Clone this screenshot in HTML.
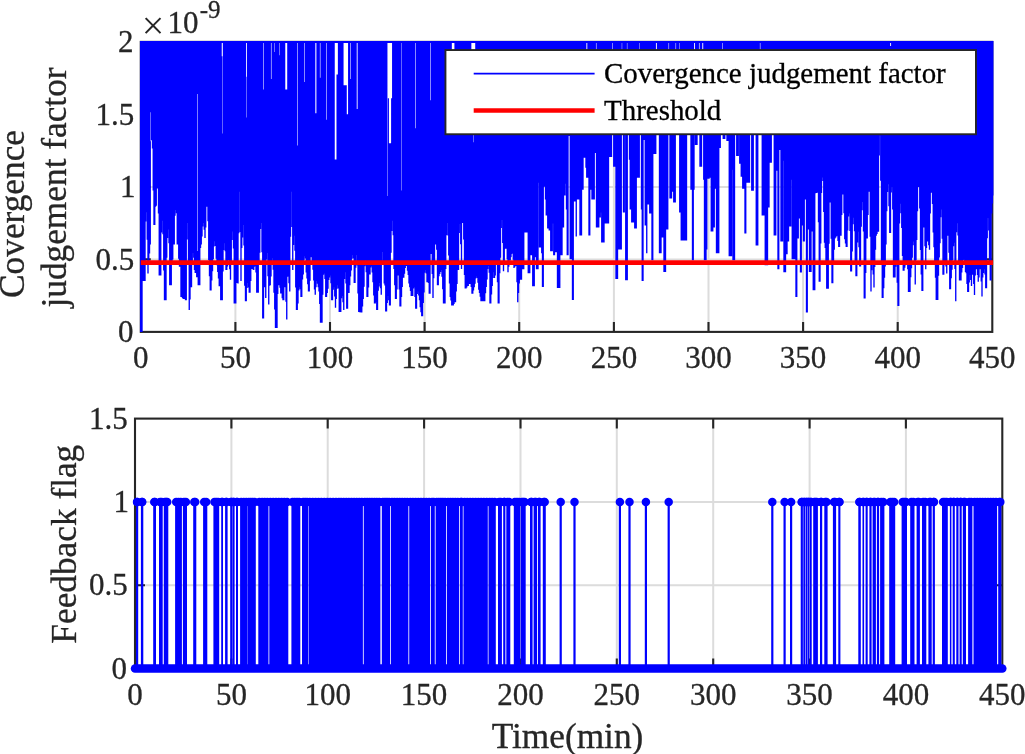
<!DOCTYPE html><html><head><meta charset="utf-8"><title>Convergence plot</title><style>html,body{margin:0;padding:0;background:#fff}svg{display:block}</style></head><body><svg width="1025" height="754" viewBox="0 0 1025 754">
<rect width="1025" height="754" fill="#fff"/>
<path d="M235.4 41.9V331.9M330.0 41.9V331.9M424.6 41.9V331.9M519.2 41.9V331.9M613.9 41.9V331.9M708.5 41.9V331.9M803.1 41.9V331.9M897.7 41.9V331.9M140.8 259.4H992.3M140.8 186.9H992.3M140.8 114.4H992.3" stroke="#dcdcdc" stroke-width="2" fill="none"/>
<rect x="140.8" y="41.9" width="851.5" height="290.0" fill="none" stroke="#262626" stroke-width="2.1"/>
<path d="M235.4 331.9v-10M235.4 41.9v10M330.0 331.9v-10M330.0 41.9v10M424.6 331.9v-10M424.6 41.9v10M519.2 331.9v-10M519.2 41.9v10M613.9 331.9v-10M613.9 41.9v10M708.5 331.9v-10M708.5 41.9v10M803.1 331.9v-10M803.1 41.9v10M897.7 331.9v-10M897.7 41.9v10M140.8 259.4h10M992.3 259.4h-10M140.8 186.9h10M992.3 186.9h-10M140.8 114.4h10M992.3 114.4h-10" stroke="#262626" stroke-width="2.1" fill="none"/>
<clipPath id="c1"><rect x="139.80" y="40.90" width="853.70" height="292.00"/></clipPath>
<path clip-path="url(#c1)" d="M139.82 38.9H993.92V195.5H993.17V203.6H992.42V213.6H991.67V280.4H989.58V265.1H988.83V230.6H988.08V217.7H987.92V238.2H987.17V288.2H985.08V274.6H984.33V269.3H984.17V273.0H983.42V277.6H982.67V296.6H981.33V281.6H980.58V269.3H979.67V277.5H978.92V281.8H977.58V274.9H976.83V269.3H975.92V275.5H975.17V294.9H973.83V283.9H973.08V274.8H972.17V286.0H970.83V279.9H970.08V274.8H969.92V282.6H969.17V292.1H967.08V284.1H966.33V273.3H965.58V272.1H964.83V263.7H964.08V259.5H963.92V260.1H963.17V267.9H962.42V272.6H961.67V280.4H958.83V263.3H958.08V235.5H957.33V223.3H957.17V232.2H956.42V301.3H955.08V269.1H954.33V242.8H954.17V246.3H953.42V260.1H952.67V269.7H951.92V278.3H951.17V289.3H949.08V252.8H948.33V235.8H947.42V273.5H946.08V266.6H945.33V260.9H944.42V274.8H942.33V238.8H941.58V209.4H941.42V217.3H940.67V243.2H939.92V257.5H939.17V275.7H938.42V299.9H935.58V277.7H934.83V262.2H934.08V247.2H933.33V232.5H932.58V204.0H931.83V192.7H930.92V213.4H930.17V249.8H928.83V245.2H928.08V241.4H927.17V248.1H926.42V269.3H925.08V246.3H924.33V227.5H923.42V291.0H921.33V274.5H920.58V250.1H919.83V208.5H919.08V187.1H918.17V211.2H917.42V240.1H916.67V260.3H915.92V284.6H914.58V260.8H913.83V241.4H913.67V245.3H912.92V257.8H912.17V268.2H911.42V277.3H910.67V292.1H907.83V269.3H907.08V260.9H906.17V265.3H905.42V267.7H904.67V270.7H902.58V255.9H901.83V228.1H901.08V213.3H900.33V203.8H900.17V223.5H899.42V306.0H897.33V282.8H896.58V263.7H896.42V266.8H895.67V277.6H892.83V209.4H892.08V187.1H891.92V192.4H891.17V233.1H889.08V206.3H888.33V184.3H888.17V192.0H887.42V211.2H886.67V244.6H885.92V266.5H885.17V277.7H884.42V288.3H883.67V298.0H881.58V261.7H880.83V180.7H880.08V135.6H879.92V155.4H879.17V231.7H877.67V233.9H876.92V235.8H876.17V249.7H875.42V267.1H874.67V287.4H873.33V274.4H872.58V263.7H872.42V270.3H871.67V291.6H870.33V236.7H869.58V191.8H868.67V215.0H867.92V238.6H866.42V273.0H865.67V298.5H863.58V231.5H862.83V201.9H862.67V210.3H861.92V226.7H861.17V266.5H859.08V247.3H858.33V231.7H858.17V242.5H857.42V276.2H855.33V263.6H854.58V231.3H853.83V217.7H853.67V224.3H852.92V251.4H852.17V271.5H850.08V230.9H849.33V213.6H849.17V216.5H848.42V230.4H847.67V247.0H845.58V243.5H844.83V239.3H844.08V213.2H843.33V194.6H842.42V214.9H841.67V235.8H840.17V247.0H838.08V240.9H837.33V235.8H837.17V236.2H836.42V237.4H835.67V238.6H834.92V249.7H834.17V263.1H833.42V283.2H831.33V238.8H830.58V202.4H829.67V243.8H828.92V288.8H826.08V261.1H825.33V248.0H824.58V242.8H823.83V211.9H823.08V181.1H822.33V177.4H822.17V193.1H821.42V243.6H820.67V281.8H818.58V222.3H817.83V192.7H816.92V193.0H816.17V193.2H815.42V290.2H812.58V231.5H811.67V272.0H808.83V229.5H807.92V312.5H805.83V199.6H804.92V241.4H802.83V225.5H801.92V272.6H799.83V218.5H798.92V238.4H797.42V297.0H795.33V259.3H791.58V179.7H791.42V226.5H789.17V241.4H787.67V254.3H786.17V272.2H783.33V160.8H783.17V241.4H780.33V149.9H779.42V269.2H777.33V170.8H776.42V235.4H773.58V134.0H771.92V162.8H769.67V207.6H768.17V265.3H764.58V215.5H761.58V134.0H758.42V245.4H755.58V134.0H753.92V190.7H751.08V134.0H750.17V182.7H746.42V233.4H744.33V188.7H742.08V176.7H740.58V163.8H739.08V134.0H738.92V155.9H736.08V134.0H735.17V260.3H732.33V169.8H732.17V256.3H728.58V140.9H726.33V134.0H725.42V139.0H722.58V134.0H720.92V147.9H719.42V253.3H715.83V188.7H714.92V227.5H713.42V231.5H710.58V177.7H709.67V178.7H707.42V249.4H706.67V260.3H703.83V179.7H703.08V134.0H702.17V166.8H699.33V134.0H697.67V144.9H694.83V134.0H694.67V189.7H693.92V260.3H691.83V189.7H690.33V134.0H687.17V240.4H680.58V212.6H679.08V134.0H675.92V202.6H673.08V191.7H672.17V198.6H669.33V134.0H668.42V229.5H666.17V272.0H663.33V237.4H661.67V253.3H658.83V134.0H656.42V153.9H653.42V260.3H651.33V213.5H649.08V204.6H647.42V253.3H646.08V225.5H644.58V139.9H643.67V281.1H641.58V209.6H640.83V134.0H639.92V177.7H636.92V228.5H634.08V222.5H631.08V209.6H629.58V159.8H628.83V134.0H627.92V280.2H625.08V134.0H624.92V212.6H622.83V134.0H621.92V249.4H618.17V278.9H615.33V166.8H613.08V134.0H612.17V156.9H609.17V223.5H604.67V242.4H601.08V212.6H600.92V217.5H599.42V227.5H595.83V152.9H594.92V199.6H591.33V189.7H590.42V235.4H588.33V177.7H586.08V167.8H585.33V157.8H583.67V189.7H582.17V235.4H579.33V199.6H576.92V236.4H575.58V201.6H573.92V299.9H571.83V259.3H569.58V136.0H568.67V255.3H566.58V209.6H565.83V183.7H565.67V195.6H564.17V227.5H562.67V255.3H560.42V287.9H556.83V252.3H555.17V255.3H553.08V223.5H552.92V251.3H550.08V230.5H548.58V228.5H547.08V215.5H545.58V199.6H544.83V186.7H543.92V287.1H541.83V253.3H541.08V247.4H538.83V182.7H538.67V269.2H535.83V257.3H534.92V286.2H532.08V255.3H530.42V273.2H527.58V232.4H524.42V269.2H522.17V279.7H519.92V283.4H519.17V293.0H518.42V302.3H517.08V282.3H516.33V265.9H515.42V267.3H514.67V268.0H513.33V259.7H512.58V253.0H512.42V253.9H511.68V257.3H510.93V260.5H509.43V266.8H508.68V272.3H507.32V259.3H506.57V248.7H504.93V263.8H504.18V271.2H502.82V242.9H502.07V219.7H501.93V228.0H501.18V257.8H500.43V273.2H499.68V303.4H497.57V282.2H496.82V264.8H495.93V275.5H495.18V278.1H493.82V272.3H493.68V278.1H492.93V285.9H492.18V294.4H491.43V303.4H489.32V272.7H488.57V265.9H488.43V268.9H487.68V279.6H486.93V287.1H486.18V293.3H485.43V301.3H480.32V296.7H479.57V292.9H478.82V289.8H478.07V282.8H477.32V277.9H476.57V276.6H476.43V278.4H475.68V283.8H474.93V287.2H474.18V290.5H473.43V293.8H471.32V287.1H470.57V284.1H468.93V286.0H467.43V287.5H466.68V288.4H464.57V275.1H463.82V239.5H463.07V222.9H462.18V269.1H460.82V244.3H460.07V224.0H459.93V232.9H459.18V270.1H457.68V284.1H456.93V291.6H456.18V302.3H454.68V304.1H453.93V305.6H451.07V300.5H450.32V297.0H449.57V283.4H448.82V255.4H448.07V235.6H447.32V222.9H447.18V235.2H446.43V269.1H445.68V303.4H442.82V289.2H442.07V276.8H441.32V270.1H441.18V271.9H440.43V274.0H439.68V276.2H438.93V285.2H436.82V249.8H436.07V244.4H435.18V264.2H434.43V278.2H433.68V298.1H432.32V273.9H431.57V254.1H430.68V293.8H428.57V283.1H427.82V282.2H426.32V273.5H425.57V270.1H425.43V272.7H424.68V292.4H423.93V303.1H423.18V316.3H421.07V312.3H420.32V307.2H419.57V300.2H418.82V295.5H418.07V291.6H417.93V294.0H417.18V308.8H415.07V297.0H414.32V287.3H414.18V288.6H413.43V295.9H410.57V290.9H409.82V287.2H409.07V283.4H408.32V274.9H407.57V270.8H406.82V265.9H405.93V267.9H405.18V273.7H404.43V277.7H402.93V287.0H402.18V297.1H401.43V306.6H399.32V289.5H398.57V275.5H397.68V289.4H396.93V299.1H394.82V285.2H394.07V269.1H393.32V235.3H392.57V220.8H392.43V231.0H391.68V252.8H390.93V305.6H388.82V300.3H388.07V295.9H387.93V302.9H387.18V311.4H385.07V285.4H384.32V283.4H383.57V261.2H382.82V251.9H382.68V261.4H381.93V294.8H380.57V288.3H379.82V283.0H379.68V286.5H378.93V290.8H378.18V309.9H376.07V301.9H375.93V303.4H373.82V295.4H373.07V282.3H372.32V272.6H371.57V265.9H371.43V267.5H370.68V274.4H369.18V287.5H368.43V297.0H366.32V272.3H365.57V260.5H365.43V266.2H364.68V286.7H363.93V299.1H363.18V306.4H362.43V312.6H360.32V312.2H358.82V312.0H358.07V293.5H357.32V265.5H356.57V255.1H356.43V267.7H355.68V283.0H353.57V258.6H352.82V255.1H352.68V258.7H351.93V270.5H351.18V276.6H350.43V285.2H349.68V293.0H348.18V308.8H346.07V283.5H345.32V272.3H345.18V279.0H344.43V309.9H343.07V302.2H342.32V295.9H342.18V298.2H341.43V312.0H338.57V288.6H337.82V285.2H337.68V288.8H336.93V299.1H336.18V307.7H334.82V296.5H334.07V287.3H333.93V289.8H333.18V300.2H331.07V283.3H330.32V275.5H330.18V277.5H329.43V279.9H328.68V288.7H327.93V293.1H327.18V297.0H325.07V278.9H324.32V273.4H324.18V274.7H323.43V294.8H322.68V322.7H319.82V304.0H319.07V291.6H318.32V287.3H317.57V283.8H316.82V280.9H316.68V287.2H315.93V294.8H314.57V289.4H313.82V280.4H313.07V269.7H312.32V262.9H311.57V257.3H310.68V280.7H309.93V291.6H307.82V284.3H307.07V278.4H306.32V272.5H305.57V258.4H304.82V256.2H304.68V260.3H303.93V274.6H303.18V279.4H302.43V297.0H300.32V289.3H299.57V287.3H299.43V290.5H298.68V303.6H297.93V309.9H295.82V287.5H295.07V250.7H294.32V235.8H294.18V244.9H293.43V270.1H292.07V227.1H291.32V191.8H291.18V236.7H290.43V291.6H289.07V283.3H288.32V276.6H288.18V276.8H287.43V319.5H286.07V301.8H285.32V287.3H284.43V300.2H282.32V298.2H281.57V293.6H280.07V287.8H279.32V285.2H278.43V294.0H277.68V328.1H274.82V309.5H274.07V292.8H273.32V269.8H272.57V258.3H272.43V261.8H271.68V276.4H270.93V285.3H270.18V285.8H269.43V304.5H268.07V276.2H267.32V253.0H267.18V259.4H266.43V297.9H265.07V287.3H264.18V318.4H262.07V252.2H261.32V222.9H261.18V229.1H260.43V252.7H259.68V262.1H258.93V292.7H256.07V272.5H255.32V265.9H255.18V266.8H254.43V270.1H253.07V269.6H252.32V269.1H251.43V281.1H250.68V292.7H248.57V287.4H247.82V283.0H247.68V288.0H246.93V301.3H244.82V285.8H244.07V245.6H243.32V225.1H243.18V237.6H242.43V248.1H241.68V280.9H240.32V231.9H239.57V191.8H239.43V233.3H238.68V283.5H237.32V283.0H236.43V303.4H233.57V248.4H232.82V231.5H232.68V240.1H231.93V264.6H231.18V279.8H229.82V269.2H229.07V260.5H228.18V266.6H227.43V270.1H225.32V251.3H224.57V243.3H224.43V250.1H223.68V271.5H222.93V300.2H220.07V286.2H218.57V278.5H217.82V271.9H217.07V265.3H216.32V258.8H215.57V246.1H214.82V241.2H214.68V246.5H213.93V259.2H213.18V271.3H212.43V280.4H211.68V290.5H209.57V276.3H208.82V260.0H208.07V221.2H207.32V206.8H206.43V227.4H205.68V238.0H204.32V229.7H203.57V222.9H203.43V226.5H202.68V236.4H201.93V244.4H201.18V247.9H200.43V285.2H197.57V277.2H196.07V272.9H194.57V270.1H193.82V257.7H193.07V253.0H192.93V261.4H192.18V287.3H190.68V299.4H189.93V309.9H188.57V262.0H187.82V222.9H187.68V239.5H186.93V300.2H184.82V299.1H182.57V298.1H181.82V297.0H180.32V266.7H178.82V258.8H178.07V244.4H176.57V213.2H175.82V210.0H175.68V215.7H174.93V244.4H173.43V259.4H172.68V261.8H171.93V285.2H169.07V243.3H168.32V229.4H168.18V238.0H167.43V257.8H166.68V300.2H163.82V270.6H163.07V234.3H162.32V220.8H162.18V232.4H161.43V275.5H158.57V213.6H157.82V188.6H156.93V205.8H156.18V206.7H155.43V225.1H153.32V190.5H152.57V148.5H151.82V140.3H150.93V244.4H150.18V253.4H149.43V263.3H148.68V273.4H147.32V239.7H146.57V212.2H146.43V221.5H145.68V280.9H142.68V331.9H139.82z" fill="#0000ff"/>
<path fill="#fff" d="M221.75 42.9h1.07v13.4h-1.07zM222.09 42.9h0.39v90.7h-0.39zM246.11 42.9h0.86v33.8h-0.86zM246.35 42.9h0.39v74.6h-0.39zM263.23 42.9h0.54v46.7h-0.54zM270.95 42.9h0.54v36.0h-0.54zM274.23 42.9h0.43v9.1h-0.43zM279.16 42.9h0.43v12.4h-0.43zM285.28 42.9h1.93v46.7h-1.93zM297.14 42.9h0.54v102.5h-0.54zM304.22 42.9h0.54v39.2h-0.54zM315.33 42.9h1.07v70.3h-1.07zM319.89 42.9h0.54v34.9h-0.54zM326.12 42.9h0.54v76.8h-0.54zM335.08 42.9h2.79v31.7h-2.79zM334.76 42.9h1.72v116.5h-1.72zM343.56 42.9h4.29v42.4h-4.29zM346.77 42.9h1.29v71.4h-1.29zM350.37 42.9h0.54v36.0h-0.54zM356.74 42.9h0.86v66.0h-0.86zM387.54 42.9h4.51v55.3h-4.51zM388.94 42.9h2.15v100.4h-2.15zM387.46 42.9h0.39v153.0h-0.39zM401.41 42.9h0.39v147.6h-0.39zM415.28 42.9h0.54v85.3h-0.54zM430.09 42.9h0.54v57.4h-0.54zM451.83 42.9h2.58v8.1h-2.58zM471.36 42.9h3.86v8.1h-3.86zM473.10 42.9h0.39v99.3h-0.39zM586.39 42.9h0.90v7.1h-0.90zM595.96 42.9h0.50v7.1h-0.50zM612.35 42.9h0.50v7.1h-0.50zM621.77 42.9h0.40v7.1h-0.40zM626.92 42.9h0.40v7.1h-0.40zM639.33 42.9h0.40v7.1h-0.40zM655.94 42.9h0.90v7.1h-0.90zM668.56 42.9h0.50v7.1h-0.50zM675.58 42.9h0.50v7.1h-0.50zM679.14 42.9h0.40v7.1h-0.40zM694.12 42.9h0.90v7.1h-0.90zM698.95 42.9h0.60v7.1h-0.60zM702.31 42.9h0.90v7.1h-0.90zM722.42 42.9h0.50v7.1h-0.50zM759.89 42.9h0.50v7.1h-0.50zM890.16 42.9h0.90v3.1h-0.90zM197.15 94.0h0.50v157.0h-0.50zM150.18 112.2h0.40v29.0h-0.40z"/>
<path d="M140.8 262.6H993.0999999999999" stroke="#ff0000" stroke-width="4.6" fill="none"/>
<rect x="445.45" y="50.05" width="530.5" height="84.2" fill="#fff" stroke="#262626" stroke-width="1.9"/>
<path d="M473.7 73.6H594.6" stroke="#0000ff" stroke-width="1.7"/>
<path d="M473.7 110.5H594.6" stroke="#ff0000" stroke-width="4.6"/>
<text x="604" y="83.4" font-size="28.95" font-family="Liberation Serif, Times New Roman, serif" fill="#000" stroke="#000" stroke-width="0.3">Covergence judgement factor</text>
<text x="604" y="120.4" font-size="28.95" font-family="Liberation Serif, Times New Roman, serif" fill="#000" stroke="#000" stroke-width="0.3">Threshold</text>
<text x="140.8" y="367.6" font-size="31" text-anchor="middle" font-family="Liberation Serif, Times New Roman, serif" fill="#262626" stroke="#262626" stroke-width="0.3">0</text>
<text x="235.4" y="367.6" font-size="31" text-anchor="middle" font-family="Liberation Serif, Times New Roman, serif" fill="#262626" stroke="#262626" stroke-width="0.3">50</text>
<text x="330.0" y="367.6" font-size="31" text-anchor="middle" font-family="Liberation Serif, Times New Roman, serif" fill="#262626" stroke="#262626" stroke-width="0.3">100</text>
<text x="424.6" y="367.6" font-size="31" text-anchor="middle" font-family="Liberation Serif, Times New Roman, serif" fill="#262626" stroke="#262626" stroke-width="0.3">150</text>
<text x="519.2" y="367.6" font-size="31" text-anchor="middle" font-family="Liberation Serif, Times New Roman, serif" fill="#262626" stroke="#262626" stroke-width="0.3">200</text>
<text x="613.9" y="367.6" font-size="31" text-anchor="middle" font-family="Liberation Serif, Times New Roman, serif" fill="#262626" stroke="#262626" stroke-width="0.3">250</text>
<text x="708.5" y="367.6" font-size="31" text-anchor="middle" font-family="Liberation Serif, Times New Roman, serif" fill="#262626" stroke="#262626" stroke-width="0.3">300</text>
<text x="803.1" y="367.6" font-size="31" text-anchor="middle" font-family="Liberation Serif, Times New Roman, serif" fill="#262626" stroke="#262626" stroke-width="0.3">350</text>
<text x="897.7" y="367.6" font-size="31" text-anchor="middle" font-family="Liberation Serif, Times New Roman, serif" fill="#262626" stroke="#262626" stroke-width="0.3">400</text>
<text x="992.3" y="367.6" font-size="31" text-anchor="middle" font-family="Liberation Serif, Times New Roman, serif" fill="#262626" stroke="#262626" stroke-width="0.3">450</text>
<text x="133.60000000000002" y="342.0" font-size="31" text-anchor="end" font-family="Liberation Serif, Times New Roman, serif" fill="#262626" stroke="#262626" stroke-width="0.3">0</text>
<text x="134.3" y="269.5" font-size="31" text-anchor="end" font-family="Liberation Serif, Times New Roman, serif" fill="#262626" stroke="#262626" stroke-width="0.3">0.5</text>
<text x="135.5" y="197.0" font-size="31" text-anchor="end" font-family="Liberation Serif, Times New Roman, serif" fill="#262626" stroke="#262626" stroke-width="0.3">1</text>
<text x="134.3" y="124.5" font-size="31" text-anchor="end" font-family="Liberation Serif, Times New Roman, serif" fill="#262626" stroke="#262626" stroke-width="0.3">1.5</text>
<text x="133.60000000000002" y="52.0" font-size="31" text-anchor="end" font-family="Liberation Serif, Times New Roman, serif" fill="#262626" stroke="#262626" stroke-width="0.3">2</text>
<text x="141.8" y="39.2" font-size="40" font-family="Liberation Serif, serif" fill="#262626">×</text>
<text x="167.6" y="32.8" font-size="31" font-family="Liberation Serif, Times New Roman, serif" fill="#262626" stroke="#262626" stroke-width="0.3">10</text>
<text x="199.8" y="17.8" font-size="25" font-family="Liberation Serif, Times New Roman, serif" fill="#262626" stroke="#262626" stroke-width="0.3">-9</text>
<text transform="translate(24,214) rotate(-90)" font-size="35.3" text-anchor="middle" font-family="Liberation Serif, Times New Roman, serif" fill="#262626" stroke="#262626" stroke-width="0.3">Covergence</text>
<text transform="translate(66,187.5) rotate(-90)" font-size="35.3" text-anchor="middle" font-family="Liberation Serif, Times New Roman, serif" fill="#262626" stroke="#262626" stroke-width="0.3">judgement factor</text>
<path d="M231.4 418.6V668.45M327.7 418.6V668.45M424.1 418.6V668.45M520.5 418.6V668.45M616.8 418.6V668.45M713.2 418.6V668.45M809.6 418.6V668.45M905.9 418.6V668.45M135.0 585.2H1002.3M135.0 501.9H1002.3" stroke="#dcdcdc" stroke-width="2" fill="none"/>
<rect x="135.0" y="418.6" width="867.3" height="249.9" fill="none" stroke="#262626" stroke-width="2.1"/>
<path d="M231.4 668.45v-10M231.4 418.6v10M327.7 668.45v-10M327.7 418.6v10M424.1 668.45v-10M424.1 418.6v10M520.5 668.45v-10M520.5 418.6v10M616.8 668.45v-10M616.8 418.6v10M713.2 668.45v-10M713.2 418.6v10M809.6 668.45v-10M809.6 418.6v10M905.9 668.45v-10M905.9 418.6v10M135.0 585.2h10M1002.3 585.2h-10M135.0 501.9h10M1002.3 501.9h-10" stroke="#262626" stroke-width="2.1" fill="none"/>
<path d="M560.7 668.5V501.9M574.5 668.5V501.9M619.9 668.5V501.9M629.5 668.5V501.9M645.9 668.5V501.9M668.7 668.5V501.9M772.3 668.5V501.9M784.6 668.5V501.9M791.1 668.5V501.9" stroke="#0000ff" stroke-width="2.2" fill="none"/>
<path d="M136.0 668.5V501.9H138.2V668.5zM140.9 668.5V501.9H143.3V668.5zM153.2 668.5V501.9H156.0V668.5zM159.0 668.5V501.9H162.7V668.5zM163.8 668.5V501.9H168.3V668.5zM175.1 668.5V501.9H181.9V668.5zM182.9 668.5V501.9H187.0V668.5zM193.2 668.5V501.9H196.3V668.5zM203.1 668.5V501.9H207.3V668.5zM213.4 668.5V501.9H219.2V668.5zM221.2 668.5V501.9H223.0V668.5zM225.1 668.5V501.9H227.6V668.5zM230.2 668.5V501.9H232.3V668.5zM232.6 668.5V501.9H234.6V668.5zM236.0 668.5V501.9H238.0V668.5zM240.1 668.5V501.9H247.4V668.5zM247.7 668.5V501.9H255.8V668.5zM258.3 668.5V501.9H268.5V668.5zM269.3 668.5V501.9H288.3V668.5zM291.4 668.5V501.9H300.3V668.5zM302.0 668.5V501.9H308.2V668.5zM308.7 668.5V501.9H340.0V668.5zM340.0 668.5V501.9H362.9V668.5zM363.7 668.5V501.9H380.4V668.5zM381.8 668.5V501.9H390.1V668.5zM390.9 668.5V501.9H408.4V668.5zM409.2 668.5V501.9H430.1V668.5zM430.9 668.5V501.9H434.8V668.5zM435.6 668.5V501.9H446.1V668.5zM446.9 668.5V501.9H459.0V668.5zM459.8 668.5V501.9H462.8V668.5zM463.5 668.5V501.9H487.8V668.5zM488.5 668.5V501.9H495.8V668.5zM498.0 668.5V501.9H501.9V668.5zM503.2 668.5V501.9H505.4V668.5zM506.3 668.5V501.9H510.3V668.5zM513.8 668.5V501.9H520.2V668.5zM520.7 668.5V501.9H525.7V668.5zM530.0 668.5V501.9H532.6V668.5zM533.6 668.5V501.9H537.0V668.5zM537.9 668.5V501.9H540.6V668.5zM542.8 668.5V501.9H545.8V668.5zM800.7 668.5V501.9H802.9V668.5zM803.3 668.5V501.9H805.2V668.5zM805.7 668.5V501.9H807.4V668.5zM807.8 668.5V501.9H809.5V668.5zM810.0 668.5V501.9H811.7V668.5zM813.2 668.5V501.9H817.9V668.5zM820.0 668.5V501.9H822.2V668.5zM824.3 668.5V501.9H827.6V668.5zM832.9 668.5V501.9H836.1V668.5zM838.3 668.5V501.9H840.4V668.5zM858.3 668.5V501.9H860.8V668.5zM862.5 668.5V501.9H864.1V668.5zM865.6 668.5V501.9H867.7V668.5zM869.4 668.5V501.9H871.6V668.5zM872.6 668.5V501.9H875.9V668.5zM876.9 668.5V501.9H879.1V668.5zM880.1 668.5V501.9H884.4V668.5zM889.2 668.5V501.9H895.2V668.5zM901.6 668.5V501.9H907.0V668.5zM910.2 668.5V501.9H914.5V668.5zM916.6 668.5V501.9H919.9V668.5zM922.0 668.5V501.9H926.3V668.5zM928.4 668.5V501.9H931.7V668.5zM932.7 668.5V501.9H934.9V668.5zM942.0 668.5V501.9H947.8V668.5zM949.9 668.5V501.9H951.4V668.5zM952.7 668.5V501.9H954.8V668.5zM956.3 668.5V501.9H958.5V668.5zM959.6 668.5V501.9H961.7V668.5zM962.8 668.5V501.9H966.0V668.5zM968.1 668.5V501.9H972.4V668.5zM973.5 668.5V501.9H997.1V668.5zM998.2 668.5V501.9H1001.4V668.5z" fill="#0000ff"/>
<g fill="#0000ff"><circle cx="137.1" cy="501.9" r="4.25"/><circle cx="137.1" cy="501.9" r="4.25"/><circle cx="142.0" cy="501.9" r="4.25"/><circle cx="142.2" cy="501.9" r="4.25"/><circle cx="154.3" cy="501.9" r="4.25"/><circle cx="154.9" cy="501.9" r="4.25"/><circle cx="160.1" cy="501.9" r="4.25"/><circle cx="161.6" cy="501.9" r="4.25"/><circle cx="164.9" cy="501.9" r="4.25"/><circle cx="166.1" cy="501.9" r="4.25"/><circle cx="167.2" cy="501.9" r="4.25"/><circle cx="176.2" cy="501.9" r="4.25"/><circle cx="178.5" cy="501.9" r="4.25"/><circle cx="180.8" cy="501.9" r="4.25"/><circle cx="184.0" cy="501.9" r="4.25"/><circle cx="185.9" cy="501.9" r="4.25"/><circle cx="194.3" cy="501.9" r="4.25"/><circle cx="195.2" cy="501.9" r="4.25"/><circle cx="204.2" cy="501.9" r="4.25"/><circle cx="206.2" cy="501.9" r="4.25"/><circle cx="214.5" cy="501.9" r="4.25"/><circle cx="216.3" cy="501.9" r="4.25"/><circle cx="218.1" cy="501.9" r="4.25"/><circle cx="222.3" cy="501.9" r="4.25"/><circle cx="221.9" cy="501.9" r="4.25"/><circle cx="226.2" cy="501.9" r="4.25"/><circle cx="226.5" cy="501.9" r="4.25"/><circle cx="231.3" cy="501.9" r="4.25"/><circle cx="231.2" cy="501.9" r="4.25"/><circle cx="233.7" cy="501.9" r="4.25"/><circle cx="233.5" cy="501.9" r="4.25"/><circle cx="237.1" cy="501.9" r="4.25"/><circle cx="236.9" cy="501.9" r="4.25"/><circle cx="241.2" cy="501.9" r="4.25"/><circle cx="243.8" cy="501.9" r="4.25"/><circle cx="246.3" cy="501.9" r="4.25"/><circle cx="248.8" cy="501.9" r="4.25"/><circle cx="250.8" cy="501.9" r="4.25"/><circle cx="252.7" cy="501.9" r="4.25"/><circle cx="254.7" cy="501.9" r="4.25"/><circle cx="259.4" cy="501.9" r="4.25"/><circle cx="262.1" cy="501.9" r="4.25"/><circle cx="264.7" cy="501.9" r="4.25"/><circle cx="267.4" cy="501.9" r="4.25"/><circle cx="270.4" cy="501.9" r="4.25"/><circle cx="273.2" cy="501.9" r="4.25"/><circle cx="276.0" cy="501.9" r="4.25"/><circle cx="278.8" cy="501.9" r="4.25"/><circle cx="281.6" cy="501.9" r="4.25"/><circle cx="284.4" cy="501.9" r="4.25"/><circle cx="287.2" cy="501.9" r="4.25"/><circle cx="292.5" cy="501.9" r="4.25"/><circle cx="294.7" cy="501.9" r="4.25"/><circle cx="297.0" cy="501.9" r="4.25"/><circle cx="299.2" cy="501.9" r="4.25"/><circle cx="303.1" cy="501.9" r="4.25"/><circle cx="305.1" cy="501.9" r="4.25"/><circle cx="307.1" cy="501.9" r="4.25"/><circle cx="309.8" cy="501.9" r="4.25"/><circle cx="312.7" cy="501.9" r="4.25"/><circle cx="315.6" cy="501.9" r="4.25"/><circle cx="318.5" cy="501.9" r="4.25"/><circle cx="321.4" cy="501.9" r="4.25"/><circle cx="324.4" cy="501.9" r="4.25"/><circle cx="327.3" cy="501.9" r="4.25"/><circle cx="330.2" cy="501.9" r="4.25"/><circle cx="333.1" cy="501.9" r="4.25"/><circle cx="336.0" cy="501.9" r="4.25"/><circle cx="338.9" cy="501.9" r="4.25"/><circle cx="341.1" cy="501.9" r="4.25"/><circle cx="343.7" cy="501.9" r="4.25"/><circle cx="346.3" cy="501.9" r="4.25"/><circle cx="348.9" cy="501.9" r="4.25"/><circle cx="351.5" cy="501.9" r="4.25"/><circle cx="354.1" cy="501.9" r="4.25"/><circle cx="356.7" cy="501.9" r="4.25"/><circle cx="359.3" cy="501.9" r="4.25"/><circle cx="361.9" cy="501.9" r="4.25"/><circle cx="364.8" cy="501.9" r="4.25"/><circle cx="367.2" cy="501.9" r="4.25"/><circle cx="369.6" cy="501.9" r="4.25"/><circle cx="372.0" cy="501.9" r="4.25"/><circle cx="374.5" cy="501.9" r="4.25"/><circle cx="376.9" cy="501.9" r="4.25"/><circle cx="379.3" cy="501.9" r="4.25"/><circle cx="382.9" cy="501.9" r="4.25"/><circle cx="385.0" cy="501.9" r="4.25"/><circle cx="387.0" cy="501.9" r="4.25"/><circle cx="389.1" cy="501.9" r="4.25"/><circle cx="392.0" cy="501.9" r="4.25"/><circle cx="394.5" cy="501.9" r="4.25"/><circle cx="397.1" cy="501.9" r="4.25"/><circle cx="399.7" cy="501.9" r="4.25"/><circle cx="402.2" cy="501.9" r="4.25"/><circle cx="404.8" cy="501.9" r="4.25"/><circle cx="407.4" cy="501.9" r="4.25"/><circle cx="410.3" cy="501.9" r="4.25"/><circle cx="412.9" cy="501.9" r="4.25"/><circle cx="415.6" cy="501.9" r="4.25"/><circle cx="418.3" cy="501.9" r="4.25"/><circle cx="421.0" cy="501.9" r="4.25"/><circle cx="423.7" cy="501.9" r="4.25"/><circle cx="426.4" cy="501.9" r="4.25"/><circle cx="429.1" cy="501.9" r="4.25"/><circle cx="432.0" cy="501.9" r="4.25"/><circle cx="433.8" cy="501.9" r="4.25"/><circle cx="436.7" cy="501.9" r="4.25"/><circle cx="438.8" cy="501.9" r="4.25"/><circle cx="440.9" cy="501.9" r="4.25"/><circle cx="442.9" cy="501.9" r="4.25"/><circle cx="445.1" cy="501.9" r="4.25"/><circle cx="448.0" cy="501.9" r="4.25"/><circle cx="450.5" cy="501.9" r="4.25"/><circle cx="452.9" cy="501.9" r="4.25"/><circle cx="455.4" cy="501.9" r="4.25"/><circle cx="457.9" cy="501.9" r="4.25"/><circle cx="460.9" cy="501.9" r="4.25"/><circle cx="461.7" cy="501.9" r="4.25"/><circle cx="464.6" cy="501.9" r="4.25"/><circle cx="467.3" cy="501.9" r="4.25"/><circle cx="470.1" cy="501.9" r="4.25"/><circle cx="472.8" cy="501.9" r="4.25"/><circle cx="475.6" cy="501.9" r="4.25"/><circle cx="478.4" cy="501.9" r="4.25"/><circle cx="481.1" cy="501.9" r="4.25"/><circle cx="483.9" cy="501.9" r="4.25"/><circle cx="486.7" cy="501.9" r="4.25"/><circle cx="489.6" cy="501.9" r="4.25"/><circle cx="492.1" cy="501.9" r="4.25"/><circle cx="494.7" cy="501.9" r="4.25"/><circle cx="499.1" cy="501.9" r="4.25"/><circle cx="500.8" cy="501.9" r="4.25"/><circle cx="504.3" cy="501.9" r="4.25"/><circle cx="504.3" cy="501.9" r="4.25"/><circle cx="507.4" cy="501.9" r="4.25"/><circle cx="509.2" cy="501.9" r="4.25"/><circle cx="514.9" cy="501.9" r="4.25"/><circle cx="517.0" cy="501.9" r="4.25"/><circle cx="519.1" cy="501.9" r="4.25"/><circle cx="521.8" cy="501.9" r="4.25"/><circle cx="523.2" cy="501.9" r="4.25"/><circle cx="524.6" cy="501.9" r="4.25"/><circle cx="531.1" cy="501.9" r="4.25"/><circle cx="531.5" cy="501.9" r="4.25"/><circle cx="534.7" cy="501.9" r="4.25"/><circle cx="535.9" cy="501.9" r="4.25"/><circle cx="539.0" cy="501.9" r="4.25"/><circle cx="539.5" cy="501.9" r="4.25"/><circle cx="543.9" cy="501.9" r="4.25"/><circle cx="544.7" cy="501.9" r="4.25"/><circle cx="560.7" cy="501.9" r="4.25"/><circle cx="574.5" cy="501.9" r="4.25"/><circle cx="619.9" cy="501.9" r="4.25"/><circle cx="629.5" cy="501.9" r="4.25"/><circle cx="645.9" cy="501.9" r="4.25"/><circle cx="668.7" cy="501.9" r="4.25"/><circle cx="772.3" cy="501.9" r="4.25"/><circle cx="784.6" cy="501.9" r="4.25"/><circle cx="791.1" cy="501.9" r="4.25"/><circle cx="801.8" cy="501.9" r="4.25"/><circle cx="801.8" cy="501.9" r="4.25"/><circle cx="804.4" cy="501.9" r="4.25"/><circle cx="804.1" cy="501.9" r="4.25"/><circle cx="806.8" cy="501.9" r="4.25"/><circle cx="806.3" cy="501.9" r="4.25"/><circle cx="808.9" cy="501.9" r="4.25"/><circle cx="808.4" cy="501.9" r="4.25"/><circle cx="811.1" cy="501.9" r="4.25"/><circle cx="810.6" cy="501.9" r="4.25"/><circle cx="814.3" cy="501.9" r="4.25"/><circle cx="815.5" cy="501.9" r="4.25"/><circle cx="816.8" cy="501.9" r="4.25"/><circle cx="821.1" cy="501.9" r="4.25"/><circle cx="821.1" cy="501.9" r="4.25"/><circle cx="825.4" cy="501.9" r="4.25"/><circle cx="826.5" cy="501.9" r="4.25"/><circle cx="834.0" cy="501.9" r="4.25"/><circle cx="835.0" cy="501.9" r="4.25"/><circle cx="839.4" cy="501.9" r="4.25"/><circle cx="839.3" cy="501.9" r="4.25"/><circle cx="859.4" cy="501.9" r="4.25"/><circle cx="859.7" cy="501.9" r="4.25"/><circle cx="863.6" cy="501.9" r="4.25"/><circle cx="863.0" cy="501.9" r="4.25"/><circle cx="866.7" cy="501.9" r="4.25"/><circle cx="866.6" cy="501.9" r="4.25"/><circle cx="870.5" cy="501.9" r="4.25"/><circle cx="870.5" cy="501.9" r="4.25"/><circle cx="873.7" cy="501.9" r="4.25"/><circle cx="874.8" cy="501.9" r="4.25"/><circle cx="878.0" cy="501.9" r="4.25"/><circle cx="878.0" cy="501.9" r="4.25"/><circle cx="881.2" cy="501.9" r="4.25"/><circle cx="883.3" cy="501.9" r="4.25"/><circle cx="890.3" cy="501.9" r="4.25"/><circle cx="892.2" cy="501.9" r="4.25"/><circle cx="894.1" cy="501.9" r="4.25"/><circle cx="902.7" cy="501.9" r="4.25"/><circle cx="904.3" cy="501.9" r="4.25"/><circle cx="905.9" cy="501.9" r="4.25"/><circle cx="911.3" cy="501.9" r="4.25"/><circle cx="913.4" cy="501.9" r="4.25"/><circle cx="917.7" cy="501.9" r="4.25"/><circle cx="918.8" cy="501.9" r="4.25"/><circle cx="923.1" cy="501.9" r="4.25"/><circle cx="925.2" cy="501.9" r="4.25"/><circle cx="929.5" cy="501.9" r="4.25"/><circle cx="930.6" cy="501.9" r="4.25"/><circle cx="933.8" cy="501.9" r="4.25"/><circle cx="933.8" cy="501.9" r="4.25"/><circle cx="943.1" cy="501.9" r="4.25"/><circle cx="944.9" cy="501.9" r="4.25"/><circle cx="946.7" cy="501.9" r="4.25"/><circle cx="951.0" cy="501.9" r="4.25"/><circle cx="950.3" cy="501.9" r="4.25"/><circle cx="953.8" cy="501.9" r="4.25"/><circle cx="953.7" cy="501.9" r="4.25"/><circle cx="957.4" cy="501.9" r="4.25"/><circle cx="957.4" cy="501.9" r="4.25"/><circle cx="960.7" cy="501.9" r="4.25"/><circle cx="960.6" cy="501.9" r="4.25"/><circle cx="963.9" cy="501.9" r="4.25"/><circle cx="964.9" cy="501.9" r="4.25"/><circle cx="969.2" cy="501.9" r="4.25"/><circle cx="971.3" cy="501.9" r="4.25"/><circle cx="974.6" cy="501.9" r="4.25"/><circle cx="977.3" cy="501.9" r="4.25"/><circle cx="980.0" cy="501.9" r="4.25"/><circle cx="982.6" cy="501.9" r="4.25"/><circle cx="985.3" cy="501.9" r="4.25"/><circle cx="988.0" cy="501.9" r="4.25"/><circle cx="990.7" cy="501.9" r="4.25"/><circle cx="993.3" cy="501.9" r="4.25"/><circle cx="996.0" cy="501.9" r="4.25"/><circle cx="999.3" cy="501.9" r="4.25"/><circle cx="1000.3" cy="501.9" r="4.25"/></g>
<path d="M135.0 668.45H1002.3" stroke="#0000ff" stroke-width="8.5" stroke-linecap="round"/>
<text x="135.0" y="705.0" font-size="31" text-anchor="middle" font-family="Liberation Serif, Times New Roman, serif" fill="#262626" stroke="#262626" stroke-width="0.3">0</text>
<text x="231.4" y="705.0" font-size="31" text-anchor="middle" font-family="Liberation Serif, Times New Roman, serif" fill="#262626" stroke="#262626" stroke-width="0.3">50</text>
<text x="327.7" y="705.0" font-size="31" text-anchor="middle" font-family="Liberation Serif, Times New Roman, serif" fill="#262626" stroke="#262626" stroke-width="0.3">100</text>
<text x="424.1" y="705.0" font-size="31" text-anchor="middle" font-family="Liberation Serif, Times New Roman, serif" fill="#262626" stroke="#262626" stroke-width="0.3">150</text>
<text x="520.5" y="705.0" font-size="31" text-anchor="middle" font-family="Liberation Serif, Times New Roman, serif" fill="#262626" stroke="#262626" stroke-width="0.3">200</text>
<text x="616.8" y="705.0" font-size="31" text-anchor="middle" font-family="Liberation Serif, Times New Roman, serif" fill="#262626" stroke="#262626" stroke-width="0.3">250</text>
<text x="713.2" y="705.0" font-size="31" text-anchor="middle" font-family="Liberation Serif, Times New Roman, serif" fill="#262626" stroke="#262626" stroke-width="0.3">300</text>
<text x="809.6" y="705.0" font-size="31" text-anchor="middle" font-family="Liberation Serif, Times New Roman, serif" fill="#262626" stroke="#262626" stroke-width="0.3">350</text>
<text x="905.9" y="705.0" font-size="31" text-anchor="middle" font-family="Liberation Serif, Times New Roman, serif" fill="#262626" stroke="#262626" stroke-width="0.3">400</text>
<text x="1002.3" y="705.0" font-size="31" text-anchor="middle" font-family="Liberation Serif, Times New Roman, serif" fill="#262626" stroke="#262626" stroke-width="0.3">450</text>
<text x="127.1" y="678.5" font-size="31" text-anchor="end" font-family="Liberation Serif, Times New Roman, serif" fill="#262626" stroke="#262626" stroke-width="0.3">0</text>
<text x="127.8" y="595.2" font-size="31" text-anchor="end" font-family="Liberation Serif, Times New Roman, serif" fill="#262626" stroke="#262626" stroke-width="0.3">0.5</text>
<text x="129.0" y="511.9" font-size="31" text-anchor="end" font-family="Liberation Serif, Times New Roman, serif" fill="#262626" stroke="#262626" stroke-width="0.3">1</text>
<text x="127.8" y="428.6" font-size="31" text-anchor="end" font-family="Liberation Serif, Times New Roman, serif" fill="#262626" stroke="#262626" stroke-width="0.3">1.5</text>
<text x="567.5" y="747.8" font-size="35.3" text-anchor="middle" font-family="Liberation Serif, Times New Roman, serif" fill="#262626" stroke="#262626" stroke-width="0.3">Time(min)</text>
<text transform="translate(76,544.2) rotate(-90)" font-size="35.3" text-anchor="middle" font-family="Liberation Serif, Times New Roman, serif" fill="#262626" stroke="#262626" stroke-width="0.3">Feedback flag</text>
</svg></body></html>
